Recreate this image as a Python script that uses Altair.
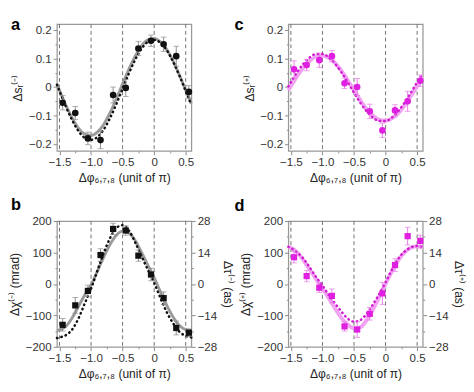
import altair as alt
import pandas as pd

# ---------------- data ----------------
x_pts = [-1.45, -1.25, -1.05, -0.85, -0.65, -0.45, -0.25, -0.05, 0.15, 0.35, 0.55]

a_y = [-0.055, -0.091, -0.180, -0.186, -0.028, -0.003, 0.135, 0.162, 0.150, 0.108, -0.017]
a_err = [0.025, 0.023, 0.022, 0.030, 0.028, 0.030, 0.025, 0.020, 0.025, 0.035, 0.022]
c_y = [0.062, 0.077, 0.094, 0.108, 0.013, 0.000, -0.085, -0.152, -0.082, -0.050, 0.022]
c_err = [0.030, 0.020, 0.025, 0.020, 0.018, 0.030, 0.025, 0.025, 0.020, 0.035, 0.020]
b_y = [-130, -68, -22, 92, 175, 170, 90, 30, -45, -140, -155]
b_err = [20, 25, 18, 20, 18, 15, 18, 20, 20, 22, 12]
d_y = [85, 25, -12, -38, -135, -145, -95, -30, 60, 152, 137]
d_err = [18, 18, 15, 22, 15, 25, 20, 35, 20, 28, 18]

x_curve = [-1.54, -1.5, -1.4, -1.3, -1.2, -1.1, -1.0, -0.9, -0.8, -0.7, -0.6, -0.5,
           -0.4, -0.3, -0.2, -0.1, 0.0, 0.1, 0.2, 0.3, 0.4, 0.5, 0.59]

a_fit = [0.011, -0.011, -0.063, -0.108, -0.144, -0.165, -0.170, -0.158, -0.131, -0.091, -0.042, 0.011,
         0.063, 0.108, 0.144, 0.165, 0.170, 0.158, 0.131, 0.091, 0.042, -0.011, -0.058]
a_theory = [0.008, -0.014, -0.068, -0.116, -0.154, -0.178, -0.185, -0.175, -0.149, -0.109, -0.060, -0.006,
            0.048, 0.096, 0.134, 0.158, 0.165, 0.155, 0.129, 0.089, 0.040, -0.014, -0.063]
c_fit = [-0.011, 0.003, 0.038, 0.069, 0.092, 0.107, 0.110, 0.102, 0.084, 0.057, 0.024, -0.011,
         -0.046, -0.077, -0.100, -0.115, -0.118, -0.110, -0.092, -0.065, -0.032, 0.003, 0.035]
c_theory = [0.002, 0.017, 0.052, 0.082, 0.104, 0.116, 0.116, 0.104, 0.082, 0.052, 0.017, -0.020,
            -0.055, -0.085, -0.107, -0.119, -0.119, -0.107, -0.085, -0.055, -0.020, 0.017, 0.049]
b_fit = [-148, -146, -135, -108, -72, -35, -3, 40, 85, 125, 155, 168,
         162, 138, 100, 60, 20, -25, -68, -105, -132, -145, -148]
b_theory = [-172, -170, -163, -145, -110, -62, -15, 42, 98, 145, 178, 187,
            170, 132, 88, 45, 3, -45, -90, -125, -152, -165, -170]
d_fit = [117, 115, 100, 75, 45, 15, -15, -45, -78, -108, -130, -141,
         -138, -115, -82, -42, 0, 40, 75, 100, 115, 120, 115]
d_theory = [118, 114, 100, 80, 52, 22, -5, -35, -62, -88, -110, -120,
            -115, -95, -65, -32, 5, 45, 80, 103, 116, 121, 118]

phase_lines = [-1.5, -1.0, -0.5, 0.0, 0.5]
x_ticks = [-1.5, -1.25, -1.0, -0.75, -0.5, -0.25, 0.0, 0.25, 0.5]
ys_ticks = [-0.2, -0.15, -0.1, -0.05, 0.0, 0.05, 0.1, 0.15, 0.2]
yc_ticks = [-200, -150, -100, -50, 0, 50, 100, 150, 200]
yt_ticks = [-28, -21, -14, -7, 0, 7, 14, 21, 28]

X_TITLE = "Δφ₆,₇,₈ (unit of π)"
FONT = "Liberation Sans"
W, H1, H2 = 140, 132, 131

MAGENTA = "#e020e0"
MAG_LIGHT = "#f2a2f2"
MAG_DOT = "#d01cd0"
GRAY = "#9a9a9a"


def x_axis():
    return alt.Axis(
        values=x_ticks, title=X_TITLE, grid=False, domain=False,
        labelExpr="abs(datum.value*2 - round(datum.value*2)) < 0.001 ? (datum.value == 0 ? '0' : format(datum.value, '.1f')) : ''",
        tickSize={"condition": {"test": "abs(datum.value*2 - round(datum.value*2)) > 0.001", "value": 2}, "value": 4},
        labelOverlap=False, labelFlush=False, titlePadding=5, labelPadding=2,
    )


def y_axis(values, title, major_mult, fmt, orient="left"):
    test_minor = f"abs(datum.value/{major_mult} - round(datum.value/{major_mult})) > 0.001"
    return alt.Axis(
        values=values, title=title, grid=False, domain=False, orient=orient,
        labelExpr=f"{test_minor} ? '' : (datum.value == 0 ? '0' : format(datum.value, '{fmt}'))",
        tickSize={"condition": {"test": test_minor, "value": 2}, "value": 4},
        labelOverlap=False, labelFlush=False, titlePadding=4, labelPadding=2,
    )


def panel(letter, ys, errs, fit, theory, ydom, yaxis, height, colorful, shape, lx, ly, right_axis=None):
    xs = alt.Scale(domain=[-1.54, 0.59], nice=False, zero=False)
    yscale = alt.Scale(domain=ydom, nice=False, zero=False)

    def X(f):
        return alt.X(f, scale=xs, axis=x_axis())

    def Y(f):
        return alt.Y(f, scale=yscale, axis=yaxis)

    pts = pd.DataFrame({"x": x_pts, "y": ys,
                        "lo": [v - e for v, e in zip(ys, errs)],
                        "hi": [v + e for v, e in zip(ys, errs)]})
    cur = pd.DataFrame({"x": x_curve, "fit": fit, "theory": theory})
    vl = pd.DataFrame({"x": phase_lines})

    rules = alt.Chart(vl).mark_rule(color="#6e6e6e", strokeDash=[4, 3], strokeWidth=1).encode(
        x=X("x:Q"))
    fit_line = alt.Chart(cur).mark_line(
        color=MAG_LIGHT if colorful else GRAY, strokeWidth=4 if colorful else 3,
        interpolate="monotone").encode(x=X("x:Q"), y=Y("fit:Q"))
    theory_line = alt.Chart(cur).mark_line(
        color=MAG_DOT if colorful else "#111111", strokeWidth=2.6,
        strokeDash=[0.5, 4.2], strokeCap="round", interpolate="monotone").encode(
        x=X("x:Q"), y=Y("theory:Q"))
    ecol = "#e878e8" if colorful else "#8c8c8c"
    ebar = alt.Chart(pts).mark_rule(color=ecol, strokeWidth=1).encode(
        x=X("x:Q"), y=Y("lo:Q"), y2="hi:Q")
    cap_lo = alt.Chart(pts).mark_tick(color=ecol, orient="horizontal", size=6, thickness=1).encode(
        x=X("x:Q"), y=Y("lo:Q"))
    cap_hi = alt.Chart(pts).mark_tick(color=ecol, orient="horizontal", size=6, thickness=1).encode(
        x=X("x:Q"), y=Y("hi:Q"))
    dots = alt.Chart(pts).mark_point(
        filled=True, opacity=1, shape=shape, size=48 if shape == "circle" else 42,
        color=MAGENTA if colorful else "#111111").encode(x=X("x:Q"), y=Y("y:Q"))
    lab = alt.Chart(pd.DataFrame({"t": [letter]})).mark_text(
        align="left", baseline="top", fontSize=17, fontWeight="bold", font=FONT, color="#000000").encode(
        text="t:N", x=alt.value(lx), y=alt.value(ly))

    layers = [rules, fit_line, theory_line, ebar, cap_lo, cap_hi, dots, lab]
    ch = alt.layer(*layers)
    if right_axis is not None:
        rdf = pd.DataFrame({"v": [-28, 28]})
        rlayer = alt.Chart(rdf).mark_point(opacity=0).encode(
            y=alt.Y("v:Q", scale=alt.Scale(domain=[-28, 28], nice=False), axis=right_axis))
        ch = alt.layer(ch, rlayer).resolve_scale(y="independent")
    return ch.properties(width=W, height=height)


pa = panel("a", a_y, a_err, a_fit, a_theory, [-0.224, 0.22],
           y_axis(ys_ticks, "Δsᵣ⁽⁻⁾", 0.1, ".1f"), H1, False, "circle", -48, -7)
pc = panel("c", c_y, c_err, c_fit, c_theory, [-0.224, 0.22],
           y_axis(ys_ticks, "Δsᵣ⁽⁺⁾", 0.1, ".1f"), H1, True, "circle", -56, -7)
pb = panel("b", b_y, b_err, b_fit, b_theory, [-200, 200],
           y_axis(yc_ticks, "Δχ⁽⁻⁾ (mrad)", 100, "d"), H2, False, "square", -48, -25,
           right_axis=y_axis(yt_ticks, "Δτ⁽⁻⁾ (as)", 14, "d", orient="right"))
pd_ = panel("d", d_y, d_err, d_fit, d_theory, [-200, 200],
            y_axis(yc_ticks, "Δχ⁽⁺⁾ (mrad)", 100, "d"), H2, True, "square", -56, -23,
            right_axis=y_axis(yt_ticks, "Δτ⁽⁺⁾ (as)", 14, "d", orient="right"))

chart = alt.concat(pa, pc, pb, pd_, columns=2, spacing={"row": 73, "column": 101}, bounds="flush").properties(
    padding=0
).configure_view(
    stroke="#999999", strokeWidth=1.3
).configure_axis(
    labelFont=FONT, titleFont=FONT, labelFontSize=12, titleFontSize=12.5,
    labelColor="#333333", titleColor="#222222", titleFontWeight="normal",
    tickColor="#888888", tickWidth=1, labelOverlap=False
)

chart.save("out.html", embed_options={"renderer": "svg", "actions": False})
